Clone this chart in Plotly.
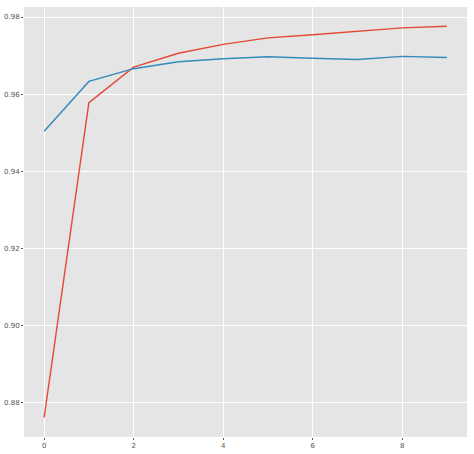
import plotly.graph_objects as go

# per-epoch accuracy
epochs = list(range(10))
train_acc = [0.8762, 0.9578, 0.9670, 0.9706, 0.9729, 0.9746, 0.9754, 0.9763, 0.9772, 0.9776]
val_acc = [0.9504, 0.9633, 0.9666, 0.9684, 0.9692, 0.9697, 0.9693, 0.9690, 0.9698, 0.9695]

x_ticks = [0, 2, 4, 6, 8]
y_ticks = [0.88, 0.90, 0.92, 0.94, 0.96, 0.98]

fig = go.Figure()
fig.add_trace(go.Scatter(x=epochs, y=train_acc, mode="lines",
                         line=dict(color="#E24A33", width=1.4), name="train"))
fig.add_trace(go.Scatter(x=epochs, y=val_acc, mode="lines",
                         line=dict(color="#348ABD", width=1.4), name="val"))

axis_style = dict(
    showgrid=True, gridcolor="white", gridwidth=1,
    zeroline=False, showline=False, automargin=False,
    ticks="outside", ticklen=2, tickcolor="#555555",
    tickfont=dict(family="DejaVu Sans", size=7, color="#555555"),
)

fig.update_xaxes(range=[-0.45, 9.45], tickvals=x_ticks, ticktext=[str(t) for t in x_ticks], **axis_style)
fig.update_yaxes(range=[0.8711, 0.9826], tickvals=y_ticks,
                 ticktext=[f"{t:.2f}" for t in y_ticks], **axis_style)

fig.update_layout(
    width=474, height=454,
    margin=dict(l=24, r=7, t=7, b=17, autoexpand=False),
    plot_bgcolor="#E5E5E5", paper_bgcolor="white",
    showlegend=False,
)

# drop the browser's default body margin so the figure sits at the page corner
fig.write_html("out.html", config={"displayModeBar": False},
               post_script="document.body.style.margin = '0';")
